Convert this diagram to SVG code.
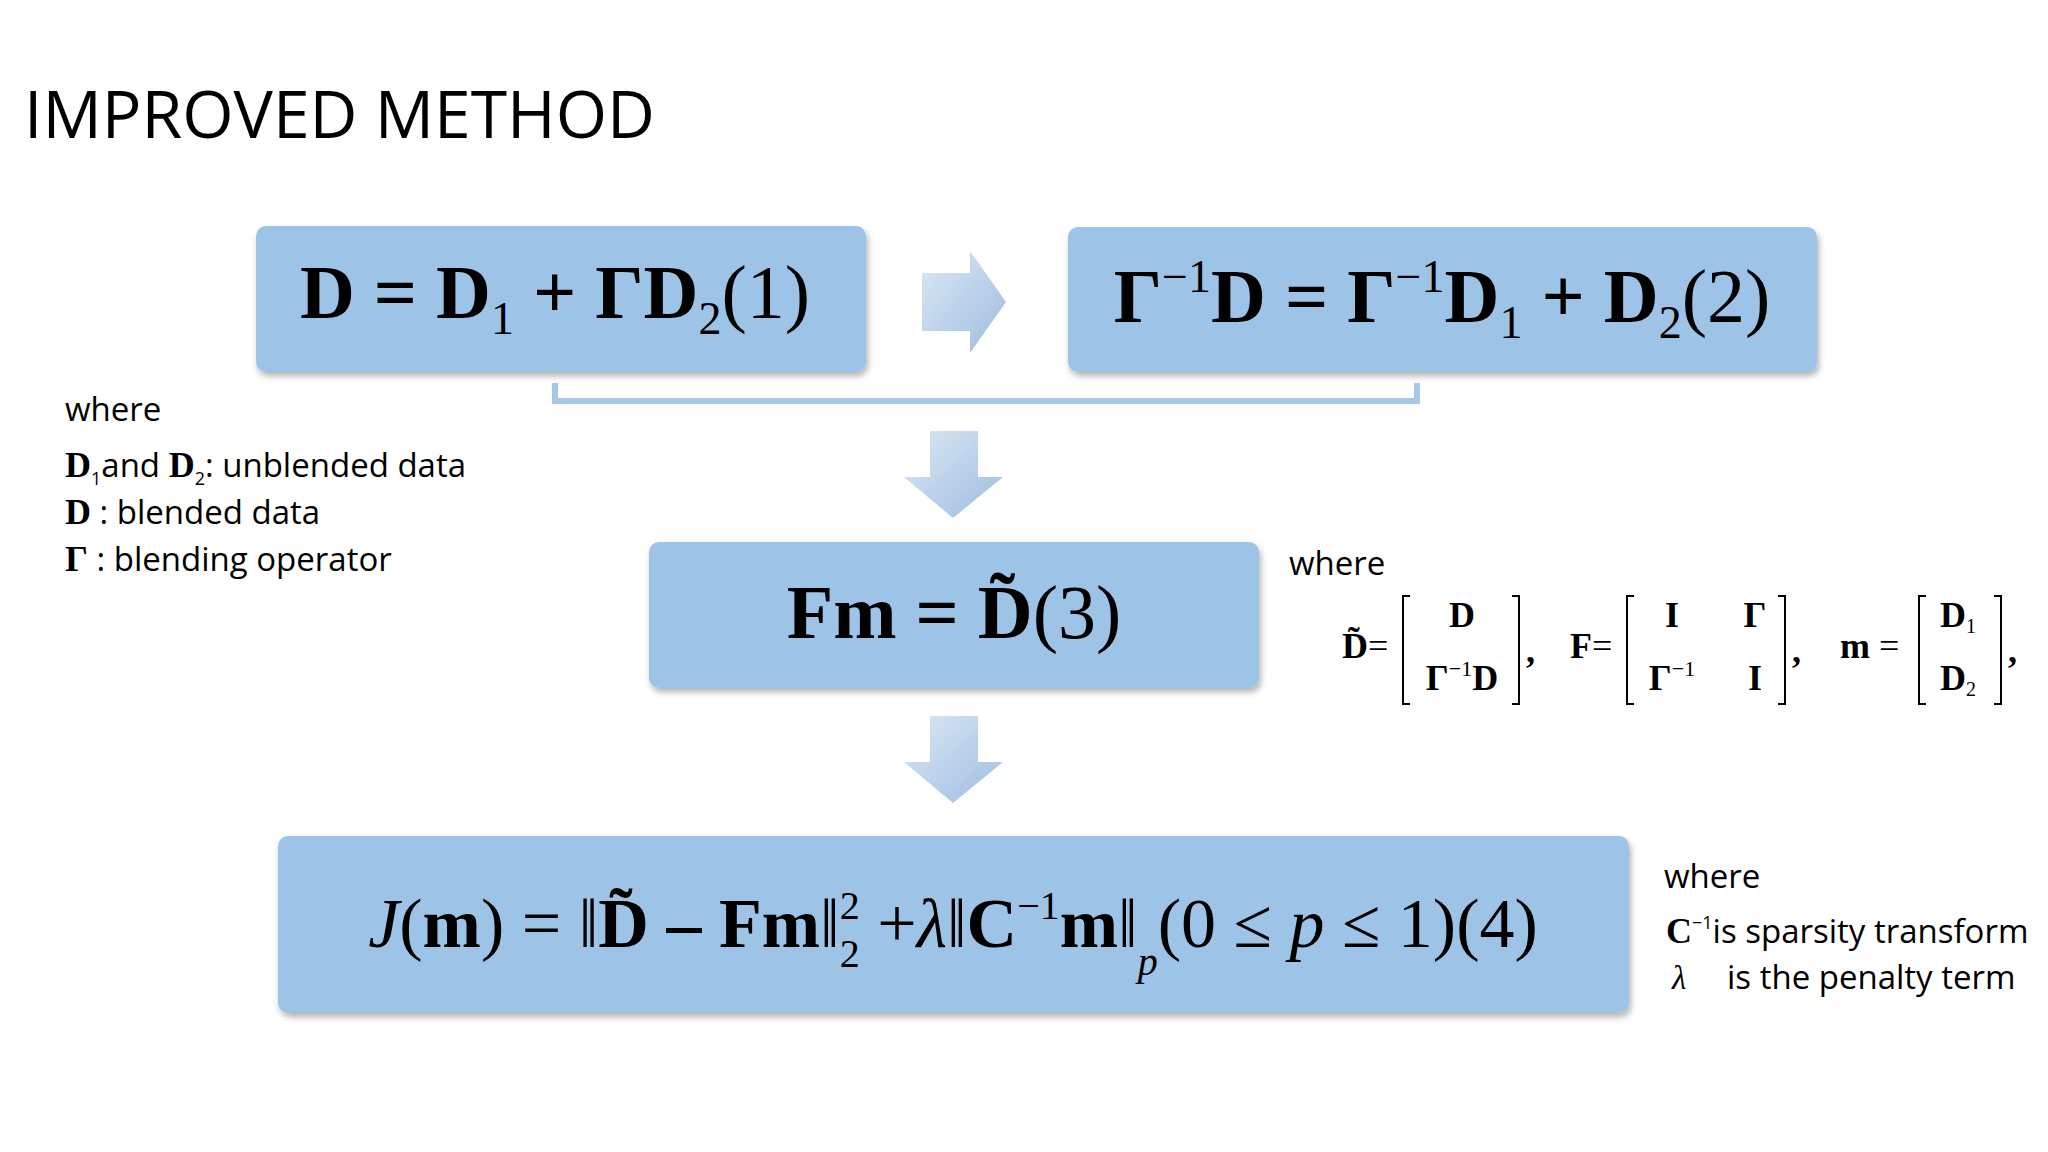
<svg xmlns="http://www.w3.org/2000/svg" width="2048" height="1152" viewBox="0 0 2048 1152">
<defs>
<linearGradient id="ag" x1="0" y1="0" x2="1" y2="1"><stop offset="0" stop-color="#dce8f5"/><stop offset="1" stop-color="#9dbde0"/></linearGradient>
<filter id="sh" x="-5%" y="-10%" width="110%" height="130%"><feDropShadow dx="2" dy="4" stdDeviation="3" flood-color="#000" flood-opacity="0.3"/></filter>
</defs>
<style>
.box{fill:#9dc3e6;filter:url(#sh)}
.eq{font-family:"Liberation Serif",serif;font-weight:bold;fill:#000}
.it{font-style:italic;font-weight:normal}
.nm{font-weight:normal}
.t{font-family:"Open Sans","Liberation Sans",sans-serif;font-size:33px;fill:#000}
.m{font-family:"Liberation Serif",serif;font-weight:bold;font-size:36px}
.br{fill:none;stroke:#000;stroke-width:2}
</style>
<rect width="2048" height="1152" fill="#fff"/>
<text x="24" y="138" font-family="Open Sans, Liberation Sans, sans-serif" font-size="66">IMPROVED METHOD</text>

<g id="connectors">
<path d="M922,273 H970 V251 L1006,302 L970,353 V331 H922 Z" fill="url(#ag)"/>
<path d="M555,383 V401 H1417 V383" fill="none" stroke="#a9c8e8" stroke-width="6"/>
<path d="M930,431 H978 V477 H1003 L953,518 L904,477 H930 Z" fill="url(#ag)"/>
<path d="M930,716 H978 V762 H1003 L953,803 L904,762 H930 Z" fill="url(#ag)"/>
</g>

<g id="n1"><rect class="box" x="256" y="226" width="610" height="146" rx="10"/>
<text class="eq" x="555" y="318" font-size="76" text-anchor="middle">D = D<tspan class="nm" font-size="46" dy="16">1</tspan><tspan dy="-16"> + ΓD</tspan><tspan class="nm" font-size="46" dy="16">2</tspan><tspan class="nm" dy="-16">(1)</tspan></text></g>

<g id="n2"><rect class="box" x="1068" y="227" width="749" height="145" rx="10"/>
<text class="eq" x="1442" y="322" font-size="76" text-anchor="middle">Γ<tspan class="nm" font-size="46" dy="-30">−1</tspan><tspan dy="30">D = Γ</tspan><tspan class="nm" font-size="46" dy="-30">−1</tspan><tspan dy="30">D</tspan><tspan class="nm" font-size="46" dy="16">1</tspan><tspan dy="-16"> + D</tspan><tspan class="nm" font-size="46" dy="16">2</tspan><tspan class="nm" dy="-16">(2)</tspan></text></g>

<g id="n3"><rect class="box" x="649" y="542" width="610" height="146" rx="10"/>
<text class="eq" x="954" y="638" font-size="76" text-anchor="middle">Fm = D̃<tspan class="nm">(3)</tspan></text></g>

<g id="n4"><rect class="box" x="278" y="836" width="1351" height="177" rx="10"/>
<text class="eq" x="953" y="947" font-size="70" text-anchor="middle"><tspan class="it">J</tspan><tspan class="nm">(</tspan>m<tspan class="nm">) = ‖</tspan>D̃ – Fm<tspan class="nm">‖</tspan><tspan class="nm" font-size="40" dy="-28">2</tspan><tspan class="nm" font-size="40" dx="-20" dy="48">2</tspan><tspan class="nm" dy="-20"> +</tspan><tspan class="it">λ</tspan><tspan class="nm">‖</tspan>C<tspan class="nm" font-size="40" dy="-28">−1</tspan><tspan dy="28">m</tspan><tspan class="nm">‖</tspan><tspan class="it" font-size="40" dy="28">p</tspan><tspan class="nm" dy="-28">(0 ≤ </tspan><tspan class="it">p</tspan><tspan class="nm"> ≤ 1)(4)</tspan></text></g>

<g id="legend1">
<text class="t" x="65" y="421">where</text>
<text class="t" x="65" y="477"><tspan class="m">D</tspan><tspan font-size="18" dy="8">1</tspan><tspan dy="-8">and </tspan><tspan class="m">D</tspan><tspan font-size="18" dy="8">2</tspan><tspan dy="-8">:  unblended data</tspan></text>
<text class="t" x="65" y="524"><tspan class="m">D</tspan> : blended data</text>
<text class="t" x="65" y="571"><tspan class="m">Γ</tspan> : blending operator</text>
</g>

<g id="legend2">
<text class="t" x="1289" y="575">where</text>
<text class="m" x="1342" y="658">D̃<tspan class="nm">=</tspan></text>
<path class="br" d="M1410,596 H1403 V704 H1410 M1512,596 H1519 V704 H1512"/>
<text class="m" x="1462" y="627" text-anchor="middle">D</text>
<text class="m" x="1462" y="690" text-anchor="middle">Γ<tspan class="nm" font-size="22" dy="-14">−1</tspan><tspan dy="14">D</tspan></text>
<text class="m" x="1526" y="662" font-size="24">,</text>
<text class="m" x="1570" y="658">F<tspan class="nm">=</tspan></text>
<path class="br" d="M1634,596 H1627 V704 H1634 M1778,596 H1785 V704 H1778"/>
<text class="m" x="1672" y="627" text-anchor="middle">I</text>
<text class="m" x="1755" y="627" text-anchor="middle">Γ</text>
<text class="m" x="1672" y="690" text-anchor="middle">Γ<tspan class="nm" font-size="22" dy="-14">−1</tspan></text>
<text class="m" x="1755" y="690" text-anchor="middle">I</text>
<text class="m" x="1792" y="662" font-size="24">,</text>
<text class="m" x="1840" y="658">m <tspan class="nm">=</tspan></text>
<path class="br" d="M1926,596 H1919 V704 H1926 M1994,596 H2001 V704 H1994"/>
<text class="m" x="1940" y="627">D<tspan class="nm" font-size="20" dy="6">1</tspan></text>
<text class="m" x="1940" y="690">D<tspan class="nm" font-size="20" dy="6">2</tspan></text>
<text class="m" x="2008" y="662" font-size="24">,</text>
</g>

<g id="legend3">
<text class="t" x="1664" y="888">where</text>
<text class="t" x="1666" y="943"><tspan class="m">C</tspan><tspan font-size="18" dy="-14">−1</tspan><tspan dy="14">is sparsity transform</tspan></text>
<text class="t" x="1672" y="989"><tspan font-family="Liberation Serif, serif" font-style="italic">λ</tspan><tspan x="1727">is the penalty term</tspan></text>
</g>
</svg>
